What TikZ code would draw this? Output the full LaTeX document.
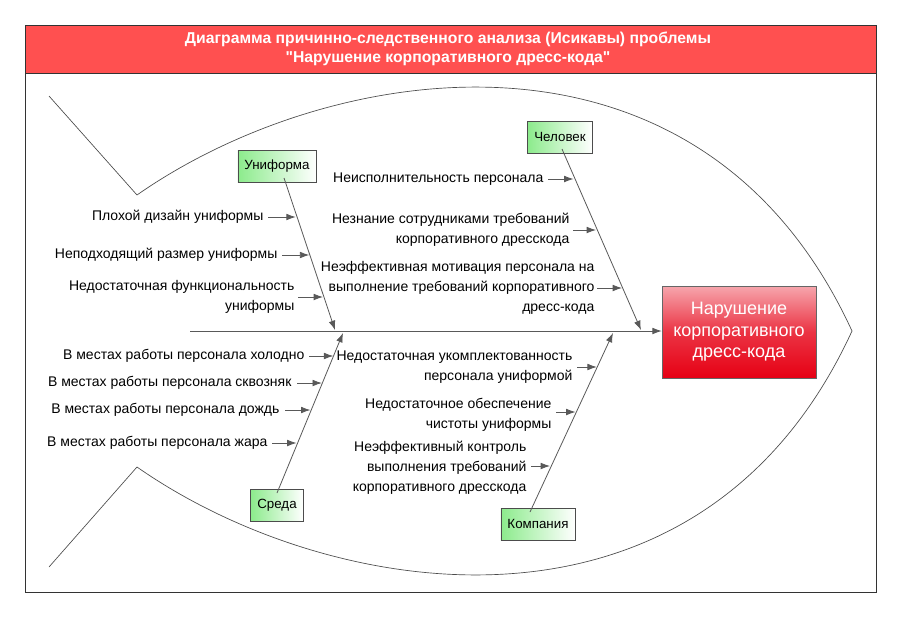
\documentclass[tikz,border=0pt]{standalone}
\usepackage{fontspec}
\setmainfont{Liberation Sans}[Ligatures=TeXOff]
\usetikzlibrary{calc,arrows.meta}
\definecolor{titlered}{RGB}{255,80,80}
\definecolor{lgreen}{RGB}{140,235,140}
\definecolor{hred}{RGB}{230,0,20}
\tikzset{
  cat/.style={draw=black!70,left color=lgreen,right color=white,minimum height=24pt,inner xsep=5pt,font=\fontsize{10}{12}\selectfont},
  cause/.style={font=\fontsize{10.5}{15}\selectfont,inner sep=1pt,align=right},
  bone/.style={draw=black!65,line width=0.6pt,-{Latex[length=7pt,width=5pt]}},
  carr/.style={draw=black!65,line width=0.6pt,-{Latex[length=7pt,width=5pt]}},
  fish/.style={draw=black!70,line width=0.5pt}
}
\begin{document}
\begin{tikzpicture}[x=0.75pt,y=-0.75pt]
\useasboundingbox (0,0) rectangle (901,618);
\fill[white] (0,0) rectangle (901,618);
% frame and title
\fill[titlered] (25,25) rectangle (876,73);
\draw[black!80,line width=0.6pt] (25,25) rectangle (876,592);
\draw[black!80,line width=0.6pt] (25,73) -- (876,73);
\node[font=\bfseries\fontsize{11.8}{14.5}\selectfont,text=white,align=center] (title) at (448,49)
  {Диаграмма причинно-следственного анализа (Исикавы) проблемы\\"Нарушение корпоративного дресс-кода"};
% fish outline
\draw[fish] (49,96) -- (137,195) .. controls (330,60) and (700,0) .. (852,331);
\draw[fish] (49,567) -- (137,467) .. controls (330,602) and (700,662) .. (852,331);
% head
\node[draw=black!60,minimum width=115.5pt,minimum height=69pt,inner sep=0pt,
  top color=hred!35,bottom color=hred,middle color=hred!80,
  text=white,font=\fontsize{13.5}{16}\selectfont,align=center] (head) at (739,332)
  {Нарушение\\корпоративного\\дресс-кода};
% spine
\coordinate (sp) at (190,331);
\draw[bone] (sp) -- (head.west|-sp);
% categories
\node[cat] (uni) at (277,166) {Униформа};
\node[cat] (chel) at (560,137) {Человек};
\node[cat] (sreda) at (277,505) {Среда};
\node[cat] (komp) at (538,524) {Компания};
\coordinate (u2) at (335,330);
\coordinate (c2) at (641,330);
\coordinate (s2) at (343,333);
\coordinate (k2) at (613,333);
\draw[bone] (284,178) -- (u2);
\draw[bone] (562,149) -- (c2);
\draw[bone] (277,493) -- (s2);
\draw[bone] (530,512) -- (k2);
% Uniform causes
\node[cause,anchor=east] (a1) at (265,217) {Плохой дизайн униформы};
\draw[carr] (268,217) -- (295.7,217);
\node[cause,anchor=east] (a2) at (279,255) {Неподходящий размер униформы};
\draw[carr] (282,255) -- (309.2,255);
\node[cause,anchor=east] (a3) at (296,297) {Недостаточная функциональность\\униформы};
\draw[carr] (298,297) -- (323,297);
% Human causes
\node[cause,anchor=east] (b1) at (545,179) {Неисполнительность персонала};
\draw[carr] (548,179) -- (573.5,179);
\node[cause,anchor=east] (b2) at (571,230) {Незнание сотрудниками требований\\корпоративного дресскода};
\draw[carr] (573,230) -- (596,230);
\node[cause,anchor=east] (b3) at (596,288) {Неэффективная мотивация персонала на\\выполнение требований корпоративного\\дресс-кода};
\draw[carr] (597,288) -- (622,288);
% Environment causes
\node[cause,anchor=east] (d1) at (306,356) {В местах работы персонала холодно};
\draw[carr] (309,356) -- (333.3,356);
\node[cause,anchor=east] (d2) at (293,383) {В местах работы персонала сквозняк};
\draw[carr] (297,383) -- (321.9,383);
\node[cause,anchor=east] (d3) at (281,410) {В местах работы персонала дождь};
\draw[carr] (285,410) -- (310.4,410);
\node[cause,anchor=east] (d4) at (269,443) {В местах работы персонала жара};
\draw[carr] (272,443) -- (296.5,443);
% Company causes
\node[cause,anchor=east] (e1) at (574,367) {Недостаточная укомплектованность\\персонала униформой};
\draw[carr] (577,367) -- (596.8,367);
\node[cause,anchor=east] (e2) at (553,415) {Недостаточное обеспечение\\чистоты униформы};
\draw[carr] (556,412) -- (575.5,412);
\node[cause,anchor=east] (e3) at (528,468) {Неэффективный контроль\\выполнения требований\\корпоративного дресскода};
\draw[carr] (531,466) -- (550,466);
\end{tikzpicture}
\end{document}
